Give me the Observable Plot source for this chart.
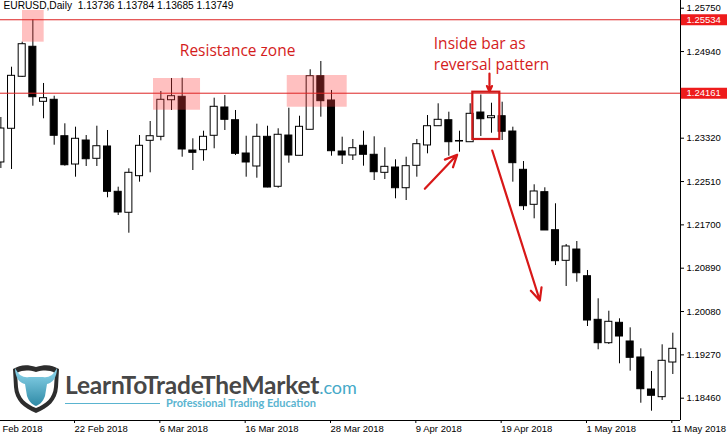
<!DOCTYPE html>
<html><head><meta charset="utf-8">
<script src="https://cdn.jsdelivr.net/npm/d3@7"></script>
<script src="https://cdn.jsdelivr.net/npm/@observablehq/plot@0.6"></script>
<style>
body{margin:0;background:#fff;}
#wrap{position:relative;width:727px;height:437px;overflow:hidden;}
#wrap svg.plot{display:block;}
#logo{position:absolute;left:0;top:0;width:727px;height:437px;pointer-events:none;}
#shield{position:absolute;left:12px;top:363px;}
#brand{position:absolute;left:65px;top:373.5px;font-family:Lato,"Open Sans",sans-serif;font-weight:700;font-size:24.5px;color:#474747;letter-spacing:-0.2px;white-space:nowrap;line-height:22px;}
#brand span{color:#45a9c8;font-weight:400;font-size:18px;letter-spacing:0;}
#tagline{position:absolute;left:166px;top:396.5px;font-family:Lato,"Open Sans",sans-serif;font-weight:700;font-size:11px;color:#5ab4d0;white-space:nowrap;line-height:12px;}
#tagline-rule{position:absolute;left:65px;top:402.5px;width:95px;height:1.5px;background:#5ab4d0;}
</style></head><body>
<div id="wrap">
  <div id="logo">
    <svg id="shield" width="48" height="50" viewBox="0 0 48 50">
      <defs><linearGradient id="tg" x1="0" y1="0" x2="0" y2="1"><stop offset="0" stop-color="#8fd8ee"/><stop offset="1" stop-color="#2f8aa6"/></linearGradient></defs>
      <path d="M1,6 C8,2 14,1 24,4 C34,1 40,2 47,6 L46,24 C45,38 36,45 24,50 C12,45 3,38 2,24 Z" fill="#2d2d2d"/>
      <path d="M5,10 C11,7 16,7 24,9 C32,7 37,7 43,10 L42,24 C41,35 34,41 24,45 C14,41 7,35 6,24 Z" fill="#ffffff"/>
      <path d="M3,5 C7,13 12,15 17,14 L31,14 C36,15 41,13 45,5 C45,15 40,20 35,21 L33,33 C31,39 27,42 24,43 C21,42 17,39 15,33 L13,21 C8,20 3,15 3,5 Z" fill="url(#tg)"/>
    </svg>
    <div id="brand">LearnToTradeTheMarket<span>.com</span></div>
    <div id="tagline-rule"></div>
    <div id="tagline">Professional Trading Education</div>
  </div>
</div>
<script>
// ---- data (EURUSD daily candles, 13 Feb 2018 .. 11 May 2018) ----
const opens  = [1.22866,1.23496,1.24468,1.25029,1.24000,1.24038,1.23357,1.22828,1.23277,1.22935,
                1.23165,1.22318,1.21926,1.22610,1.23271,1.23346,1.24030,1.24094,1.23090,1.23096,
                1.23365,1.23894,1.23656,1.23034,1.22791,1.23346,1.22412,1.23370,1.22991,1.23477,
                1.24479,1.24025,1.23071,1.22997,1.23178,1.23010,1.22673,1.22772,1.22385,1.22804,
                1.23184,1.23544,1.23656,1.23268,1.23245,1.23800,1.23694,1.23731,1.23445,1.22729,
                1.22075,1.22311,1.21600,1.21028,1.21239,1.20740,1.19925,1.19488,1.19869,1.19520,
                1.19221,1.18622,1.18479,1.19127];
const highs  = [1.23707,1.24647,1.25115,1.25534,1.24343,1.24105,1.23589,1.23526,1.23370,1.23544,
                1.23464,1.22404,1.22748,1.23370,1.23632,1.24193,1.24436,1.24442,1.23309,1.23451,
                1.24068,1.24118,1.23838,1.23357,1.23582,1.23544,1.23496,1.23881,1.23731,1.24599,
                1.24754,1.24212,1.23339,1.23296,1.23451,1.23346,1.23141,1.22916,1.22965,1.23296,
                1.23744,1.23963,1.23806,1.23451,1.23963,1.24128,1.23974,1.23993,1.23526,1.22884,
                1.22449,1.22393,1.22094,1.21333,1.21389,1.20847,1.20318,1.20086,1.19944,1.19776,
                1.19383,1.18959,1.19458,1.19675];
const lows   = [1.22754,1.22735,1.24455,1.23918,1.23683,1.23189,1.22797,1.22591,1.22791,1.22791,
                1.22206,1.21875,1.21544,1.22498,1.22673,1.23271,1.23838,1.22965,1.22716,1.22890,
                1.23122,1.23464,1.22997,1.22591,1.22572,1.22393,1.22385,1.22853,1.22991,1.23477,
                1.23713,1.22984,1.22828,1.22903,1.22797,1.22529,1.22548,1.22187,1.22155,1.22591,
                1.23028,1.23544,1.22984,1.23058,1.23245,1.23352,1.23413,1.23277,1.22498,1.21969,
                1.21813,1.21595,1.20940,1.20548,1.20628,1.19800,1.19365,1.19464,1.19103,1.18965,
                1.18366,1.18217,1.18417,1.18903];
const closes = [1.23501,1.24486,1.25077,1.24086,1.24068,1.23365,1.22815,1.23309,1.22927,1.23170,
                1.22318,1.21931,1.22673,1.23178,1.23357,1.24038,1.24105,1.23109,1.23047,1.23346,
                1.23907,1.23664,1.23028,1.22866,1.23346,1.22398,1.23384,1.22997,1.23533,1.24479,
                1.24012,1.23077,1.22997,1.23133,1.23010,1.22684,1.22785,1.22385,1.22797,1.23208,
                1.23544,1.23664,1.23245,1.23258,1.23776,1.23675,1.23731,1.23440,1.22853,1.22049,
                1.22324,1.21595,1.21021,1.21296,1.20796,1.19912,1.19488,1.19888,1.19613,1.19215,
                1.18628,1.18505,1.19159,1.19383];
// bar index of each tick label (bar 0 = 12 Feb 2018)
const tickIndex  = [0, 8, 16, 24, 32, 40, 48, 56, 64];
const tickLabels = ["12 Feb 2018","22 Feb 2018","6 Mar 2018","16 Mar 2018","28 Mar 2018",
                    "9 Apr 2018","19 Apr 2018","1 May 2018","11 May 2018"];
const priceTicks = [1.18460,1.19270,1.20080,1.20890,1.21700,1.22510,1.23320,1.24940,1.25750];
const levels     = [1.25534, 1.24161];
const header     = "EURUSD,Daily  1.13736 1.13784 1.13685 1.13749";
// annotations (data coordinates: bar index / price)
const zones  = [{x1:3.03, x2:5.06, y1:1.25115, y2:1.25707},
                {x1:15.31, x2:19.72, y1:1.23843, y2:1.24436},
                {x1:27.85, x2:33.47, y1:1.23899, y2:1.24492}];
const insideBox = [{x1:45.25, x2:47.78, y1:1.23296, y2:1.24180}];
const arrows = [{x1:46.81, y1:1.24529, x2:46.81, y2:1.24193},
                {x1:40.75, y1:1.22374, x2:43.78, y2:1.23010},
                {x1:47.07, y1:1.23090, x2:51.53, y2:1.20286}];
const notes  = [{x:17.78, y:1.24946, text:"Resistance zone"},
                {x:41.59, y:1.25085, text:"Inside bar as"},
                {x:41.59, y:1.24692, text:"reversal pattern"}];

// ---- layout ----
const xDomain = [0.966, 64.72];
const yDomain = [1.18043, 1.25894];
const RED = "#dd2222";
const bars = opens.map((o, k) => ({i: k + 1, o, h: highs[k], l: lows[k], c: closes[k]}));
const labelOf = new Map(tickIndex.map((t, k) => [t, tickLabels[k]]));
const half = 0.33;

const chart = Plot.plot({
  width: 727, height: 437,
  marginTop: 0, marginBottom: 17, marginLeft: 0, marginRight: 47,
  style: {fontFamily: "'Liberation Sans', Arial, sans-serif", fontSize: "9.5px", background: "#fff", overflow: "visible"},
  x: {type: "linear", domain: xDomain, axis: null},
  y: {type: "linear", domain: yDomain, axis: null},
  marks: [
    // candles
    Plot.ruleX(bars, {x: "i", y1: "l", y2: "h", stroke: "#000", strokeWidth: 1}),
    Plot.rect(bars.filter(d => d.c >= d.o), {x1: d => d.i - half, x2: d => d.i + half, y1: "o", y2: "c", fill: "#fff", stroke: "#000", strokeWidth: 1}),
    Plot.rect(bars.filter(d => d.c < d.o), {x1: d => d.i - half, x2: d => d.i + half, y1: "o", y2: "c", fill: "#000", stroke: "#000", strokeWidth: 1}),
    // resistance zones
    Plot.rect(zones, {x1: "x1", x2: "x2", y1: "y1", y2: "y2", fill: "#ff4040", fillOpacity: 0.33}),
    // horizontal levels
    Plot.ruleY(levels, {stroke: RED, strokeWidth: 1}),
    // inside bar box
    Plot.rect(insideBox, {x1: "x1", x2: "x2", y1: "y1", y2: "y2", fill: "none", stroke: "#d01818", strokeWidth: 2.2}),
    // arrows
    Plot.arrow(arrows, {x1: "x1", y1: "y1", x2: "x2", y2: "y2", stroke: "#d81818", strokeWidth: 2.2, headLength: 9, headAngle: 50}),
    // notes
    Plot.text(notes, {x: "x", y: "y", text: "text", textAnchor: "start", fill: "#d41c1c", fontSize: 15.5, fontFamily: "'Open Sans', 'Noto Sans', sans-serif"}),
    // axes
    Plot.axisX(tickIndex, {anchor: "bottom", tickSize: 3, tickPadding: 2, textAnchor: "start", tickFormat: d => labelOf.get(d), fontSize: 9.5, dx: -1, label: null, fill: "#000"}),
    Plot.axisY(priceTicks, {anchor: "right", tickSize: 3, tickPadding: 3, tickFormat: d => d.toFixed(5), fontSize: 9.5, label: null, fill: "#000"}),
    Plot.ruleX([xDomain[1]], {stroke: "#000", strokeWidth: 1}),
    Plot.ruleY([yDomain[0]], {x1: xDomain[0], x2: xDomain[1], stroke: "#000", strokeWidth: 1}),
    // highlighted price labels on the axis
    Plot.ruleY(levels, {x1: xDomain[1] + 0.08, x2: xDomain[1] + 4.5, stroke: "#ee1c1c", strokeWidth: 11}),
    Plot.text(levels, {x: xDomain[1], y: d => d, text: d => d.toFixed(5), dx: 6, textAnchor: "start", fill: "#fff", fontSize: 9.5}),
    // header
    Plot.text([header], {frameAnchor: "top-left", text: d => d, dx: 3, dy: 1, textAnchor: "start", lineAnchor: "top", fill: "#000", fontSize: 10.2})
  ]
});
document.getElementById("wrap").prepend(chart);
</script>
</body></html>
